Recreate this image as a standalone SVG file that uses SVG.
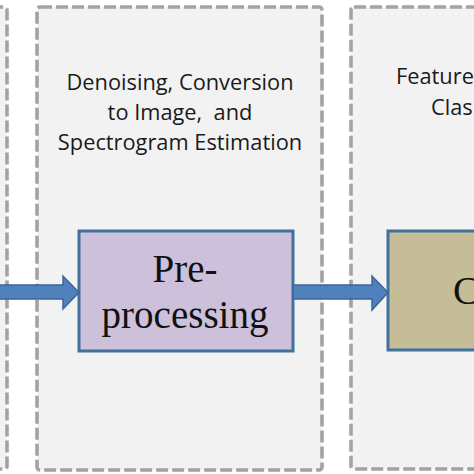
<svg xmlns="http://www.w3.org/2000/svg" width="474" height="474" viewBox="0 0 474 474">
<style>
.panel{fill:#f2f2f2;stroke:#a3a3a3;stroke-width:3.6;stroke-dasharray:12 4}
.lbl{font-family:"Open Sans","Liberation Sans",sans-serif;font-size:21.8px;fill:#1a1a1a}
.box{stroke:#41719c;stroke-width:3}
.big{font-family:"Liberation Serif","Times New Roman",serif;font-size:39px;fill:#111;text-anchor:middle}
.arrow{fill:#4f81bd;stroke:#3b6699;stroke-width:1.5}
</style>
<rect width="474" height="474" fill="#ffffff"/>
<g id="panel-left"><rect class="panel" x="-300" y="7" width="307" height="462" rx="3"/></g>
<g id="panel-preprocessing">
<rect class="panel" x="37" y="7" width="285" height="463" rx="3"/>
<text class="lbl" text-anchor="middle" x="180" y="90">Denoising, Conversion</text>
<text class="lbl" text-anchor="middle" x="180" y="120" xml:space="preserve">to Image,  and</text>
<text class="lbl" text-anchor="middle" x="180" y="150">Spectrogram Estimation</text>
</g>
<g id="panel-right">
<rect class="panel" x="351" y="7" width="300" height="462" rx="3"/>
<text class="lbl" x="396" y="84">Feature</text>
<text class="lbl" x="431" y="115">Clas</text>
</g>
<g id="node-preprocessing">
<rect class="box" x="79" y="231" width="214" height="120" fill="#ccc0da"/>
<text class="big" x="185" y="282">Pre-</text>
<text class="big" x="185" y="328">processing</text>
</g>
<g id="node-c">
<rect class="box" x="388" y="231" width="120" height="119" fill="#c4bd97"/>
<text class="big" x="453" y="304" style="text-anchor:start">C</text>
</g>
<g id="connectors">
<path class="arrow" d="M-5,285 H63 V276 L79,292.5 L63,309 V299 H-5 Z"/>
<path class="arrow" d="M293,285 H372 V276 L388,292.5 L372,310 V299 H293 Z"/>
</g>
</svg>
